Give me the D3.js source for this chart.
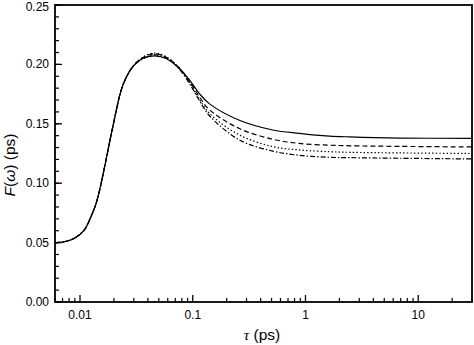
<!DOCTYPE html>
<html><head><meta charset="utf-8">
<script src="https://cdn.jsdelivr.net/npm/d3@7"></script>
<style>body{margin:0;background:#fff}svg{display:block}text{font-family:"Liberation Sans",Arial,sans-serif;fill:#000}</style>
</head><body>
<svg id="c" width="474" height="345"></svg>
<script>
const tau = [0.006,0.00726,0.0089,0.0109,0.0125,0.0139,0.0154,0.0170,0.0195,0.0239,0.0293,0.0359,0.0457,0.058,0.076,0.0934,0.114,0.140,0.259,0.513,0.88,1.63,2.46,6.8,30];
const solid   = [0.050,0.0507,0.0536,0.0606,0.0718,0.083,0.0999,0.1195,0.147,0.182,0.198,0.205,0.2072,0.205,0.1966,0.187,0.1757,0.167,0.153,0.1448,0.142,0.1397,0.139,0.138,0.1378];
const dashed  = [0.050,0.0507,0.0536,0.0606,0.0718,0.083,0.0999,0.1195,0.147,0.182,0.198,0.2055,0.209,0.206,0.197,0.186,0.173,0.162,0.146,0.137,0.1335,0.132,0.1315,0.131,0.1305];
const dotted  = [0.050,0.0507,0.0536,0.0606,0.0718,0.083,0.0999,0.1195,0.147,0.182,0.198,0.206,0.2095,0.2065,0.197,0.185,0.171,0.159,0.1406,0.1308,0.128,0.1265,0.126,0.1255,0.125];
const dashdot = [0.050,0.0507,0.0536,0.0606,0.0718,0.083,0.0999,0.1195,0.147,0.182,0.198,0.2045,0.208,0.2055,0.196,0.184,0.170,0.157,0.1364,0.127,0.1235,0.1218,0.1215,0.121,0.1204];
const xTickVals = [0.01,0.1,1,10];
const xTickLabels = ["0.01","0.1","1","10"];
const yTickVals = [0,0.05,0.10,0.15,0.20,0.25];
const yTickLabels = ["0.00","0.05","0.10","0.15","0.20","0.25"];

const series = [
  {v: solid, dash: null},
  {v: dashed, dash: "5,3"},
  {v: dotted, dash: "1.4,2.2"},
  {v: dashdot, dash: "5,2,1.4,2"}
];

const L=55, R=472, T=5, B=302;
const svg = d3.select("#c");
const x = d3.scaleLog().domain([0.006,30]).range([L,R]);
const y = d3.scaleLinear().domain([0,0.25]).range([B,T]);

svg.append("clipPath").attr("id","cp").append("rect").attr("x",L).attr("y",T).attr("width",R-L).attr("height",B-T);

const line = d3.line().x((d)=>x(d[0])).y((d)=>y(d[1])).curve(d3.curveCatmullRom.alpha(0.5));
const g = svg.append("g").attr("clip-path","url(#cp)");
series.slice().reverse().forEach(s=>{
  g.append("path").datum(tau.map((t,i)=>[t,s.v[i]]))
   .attr("d",line).attr("fill","none").attr("stroke","#000")
   .attr("stroke-width",1.2).attr("stroke-dasharray",s.dash);
});

const xMinor=[];
for (let e=-3;e<=1;e++) for (let m=2;m<=9;m++){const v=m*Math.pow(10,e); if(v>=0.006&&v<=30) xMinor.push(v);}
svg.append("g").selectAll("line").data(xMinor).join("line")
  .attr("x1",d=>x(d)).attr("x2",d=>x(d)).attr("y1",B).attr("y2",B-4)
  .attr("stroke","#000").attr("stroke-width",1.2);
svg.append("g").selectAll("line").data(xTickVals).join("line")
  .attr("x1",d=>x(d)).attr("x2",d=>x(d)).attr("y1",B).attr("y2",B-7)
  .attr("stroke","#000").attr("stroke-width",1.3);
svg.append("g").selectAll("text").data(xTickVals).join("text")
  .attr("x",d=>x(d)).attr("y",B+17).attr("text-anchor","middle")
  .attr("font-size",12).text((d,i)=>xTickLabels[i]);

const yMinor=d3.range(0,0.2501,0.01);
svg.append("g").selectAll("line").data(yMinor).join("line")
  .attr("x1",L).attr("x2",L+4).attr("y1",d=>y(d)).attr("y2",d=>y(d))
  .attr("stroke","#000").attr("stroke-width",1.2);
svg.append("g").selectAll("line").data(yTickVals).join("line")
  .attr("x1",L).attr("x2",L+7).attr("y1",d=>y(d)).attr("y2",d=>y(d))
  .attr("stroke","#000").attr("stroke-width",1.3);
svg.append("g").selectAll("text").data(yTickVals).join("text")
  .attr("x",L-6).attr("y",d=>Math.max(y(d)+4,10.5)).attr("text-anchor","end")
  .attr("font-size",12).text((d,i)=>yTickLabels[i]);

svg.append("rect").attr("x",L).attr("y",T).attr("width",R-L).attr("height",B-T)
  .attr("fill","none").attr("stroke","#000").attr("stroke-width",1.8);

const xl = svg.append("text").attr("x",262).attr("y",340).attr("text-anchor","middle").attr("font-size",15.5);
xl.append("tspan").attr("font-style","italic").attr("font-family","'Liberation Serif',serif").text("τ");
xl.append("tspan").text(" (ps)");

const yl = svg.append("text").attr("transform","translate(15,165) rotate(-90)").attr("text-anchor","middle").attr("font-size",15.5);
yl.append("tspan").attr("font-style","italic").text("F");
yl.append("tspan").text("(");
yl.append("tspan").attr("font-style","italic").text("ω");
yl.append("tspan").text(") (ps)");
</script>
</body></html>
